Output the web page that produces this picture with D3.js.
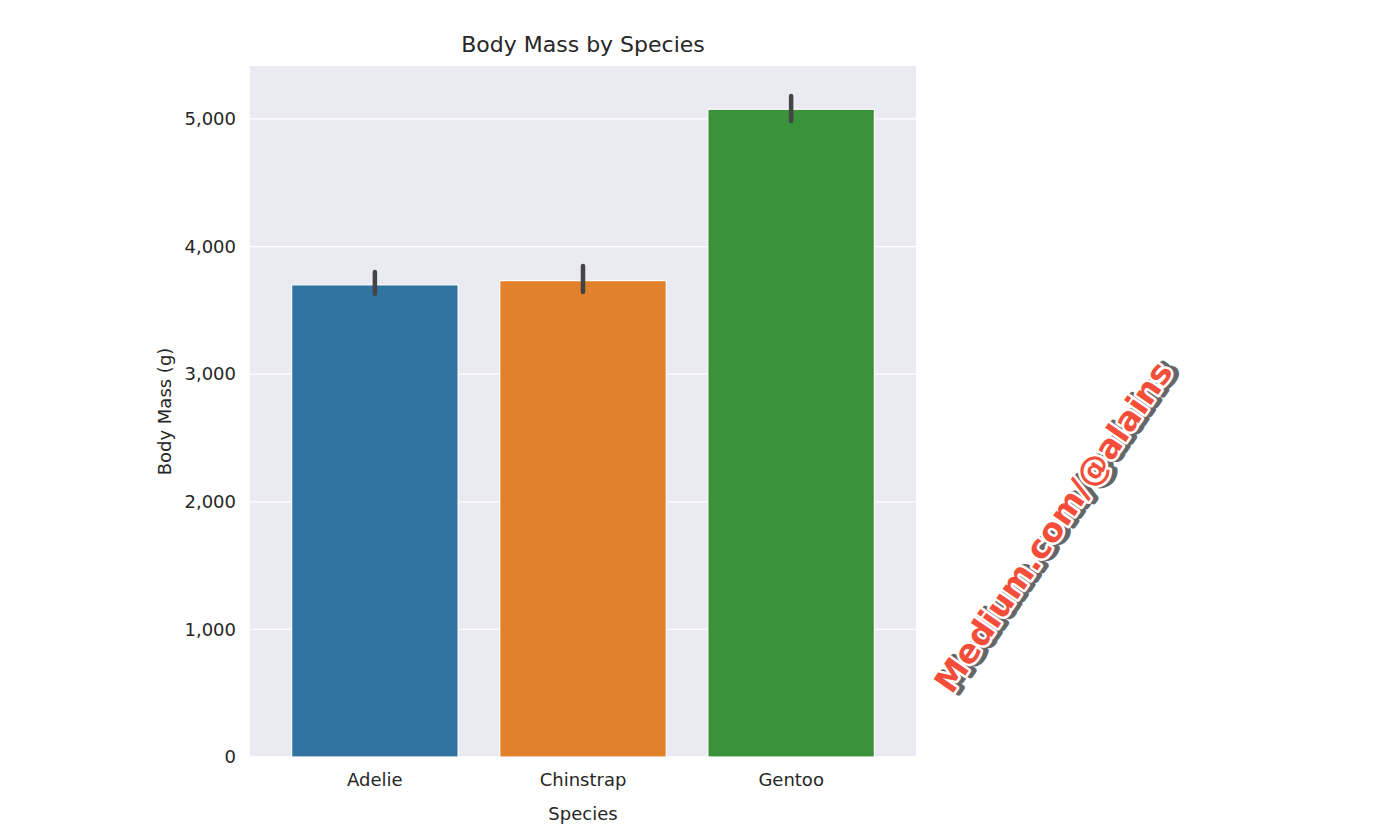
<!DOCTYPE html>
<html lang="en">
<head>
  <meta charset="UTF-8">
  <title>Body Mass by Species</title>
  <script src="https://d3js.org/d3.v7.min.js"></script>
  <style>
    body { margin: 0; background: #fff; }
    text { font-family: "DejaVu Sans", sans-serif; }
  </style>
</head>
<body>
  <div class="canvas"></div>
  <script>
    const species = ['Adelie', 'Chinstrap', 'Gentoo'];
    const meanMass = [3700, 3733, 5076];
    const ciLow = [3630, 3644, 4984];
    const ciHigh = [3800, 3848, 5180];
    const yTicks = [0, 1000, 2000, 3000, 4000, 5000];
    const colors = ['#3274a1', '#e1812c', '#3a923a'];

    const width = 1400;
    const height = 825;
    const [mt, mb, mr, ml] = [66, 68, 484, 250];
    const graphWidth = width - ml - mr;
    const graphHeight = height - mt - mb;

    const svg = d3.select('.canvas')
      .append('svg')
      .attr('width', width)
      .attr('height', height)

    const graph = svg.append('g')
      .attr('transform', `translate(${ml}, ${mt})`)

    graph.append('rect')
      .attr('width', graphWidth)
      .attr('height', graphHeight)
      .attr('fill', '#eaeaf2')

    const x = d3.scaleBand()
      .domain(species)
      .range([0, graphWidth])
      .padding(0.2)

    const y = d3.scaleLinear()
      .domain([0, 5415])
      .range([graphHeight, 0])

    graph.selectAll('line.grid').data(yTicks)
      .enter().append('line')
      .attr('class', 'grid')
      .attr('x1', 0).attr('x2', graphWidth)
      .attr('y1', d => y(d)).attr('y2', d => y(d))
      .attr('stroke', '#fff').attr('stroke-width', 1.3)

    const data = species.map((s, i) => ({ s, m: meanMass[i], lo: ciLow[i], hi: ciHigh[i], c: colors[i] }))

    graph.selectAll('rect.bar').data(data)
      .enter().append('rect')
      .attr('class', 'bar')
      .attr('x', d => x(d.s))
      .attr('width', x.bandwidth())
      .attr('y', d => y(d.m))
      .attr('height', d => graphHeight - y(d.m))
      .attr('fill', d => d.c)
      .attr('stroke', '#fff').attr('stroke-width', 1.2)

    graph.selectAll('line.err').data(data)
      .enter().append('line')
      .attr('class', 'err')
      .attr('x1', d => x(d.s) + x.bandwidth() / 2)
      .attr('x2', d => x(d.s) + x.bandwidth() / 2)
      .attr('y1', d => y(d.lo)).attr('y2', d => y(d.hi))
      .attr('stroke', '#444').attr('stroke-width', 4.5)
      .attr('stroke-linecap', 'round')

    const xAxis = graph.append('g')
      .attr('transform', `translate(0, ${graphHeight})`)
      .call(d3.axisBottom(x).tickSize(0).tickPadding(16))
    const yAxis = graph.append('g')
      .call(d3.axisLeft(y).tickValues(yTicks).tickSize(0).tickPadding(14))
    ;[xAxis, yAxis].forEach(a => {
      a.select('.domain').remove()
      a.selectAll('text').attr('font-size', 18).attr('fill', '#262626')
        .attr('font-family', '"DejaVu Sans", sans-serif')
    })

    svg.append('text')
      .attr('x', ml + graphWidth / 2).attr('y', 52)
      .attr('text-anchor', 'middle').attr('font-size', 22).attr('fill', '#262626')
      .text('Body Mass by Species')

    svg.append('text')
      .attr('x', ml + graphWidth / 2).attr('y', 820)
      .attr('text-anchor', 'middle').attr('font-size', 18).attr('fill', '#262626')
      .text('Species')

    svg.append('text')
      .attr('transform', `translate(171, ${mt + graphHeight / 2}) rotate(-90)`)
      .attr('text-anchor', 'middle').attr('font-size', 18).attr('fill', '#262626')
      .text('Body Mass (g)')

    // watermark
    const wm = svg.append('g').attr('transform', 'translate(1055, 528) rotate(-55.5)')
    wm.append('text')
      .attr('x', 3).attr('y', 4)
      .attr('text-anchor', 'middle').attr('dominant-baseline', 'middle')
      .attr('font-family', '"Liberation Sans", Arial, sans-serif')
      .attr('font-weight', 'bold').attr('font-size', 33)
      .attr('fill', '#666').attr('stroke', '#666').attr('stroke-width', 6)
      .attr('stroke-linejoin', 'round')
      .text('Medium.com/@alains')
    wm.append('text')
      .attr('text-anchor', 'middle').attr('dominant-baseline', 'middle')
      .attr('font-family', '"Liberation Sans", Arial, sans-serif')
      .attr('font-weight', 'bold').attr('font-size', 33)
      .attr('fill', '#f44e3b').attr('stroke', '#fff').attr('stroke-width', 5)
      .attr('stroke-linejoin', 'round').attr('paint-order', 'stroke')
      .text('Medium.com/@alains')
  </script>
</body>
</html>
